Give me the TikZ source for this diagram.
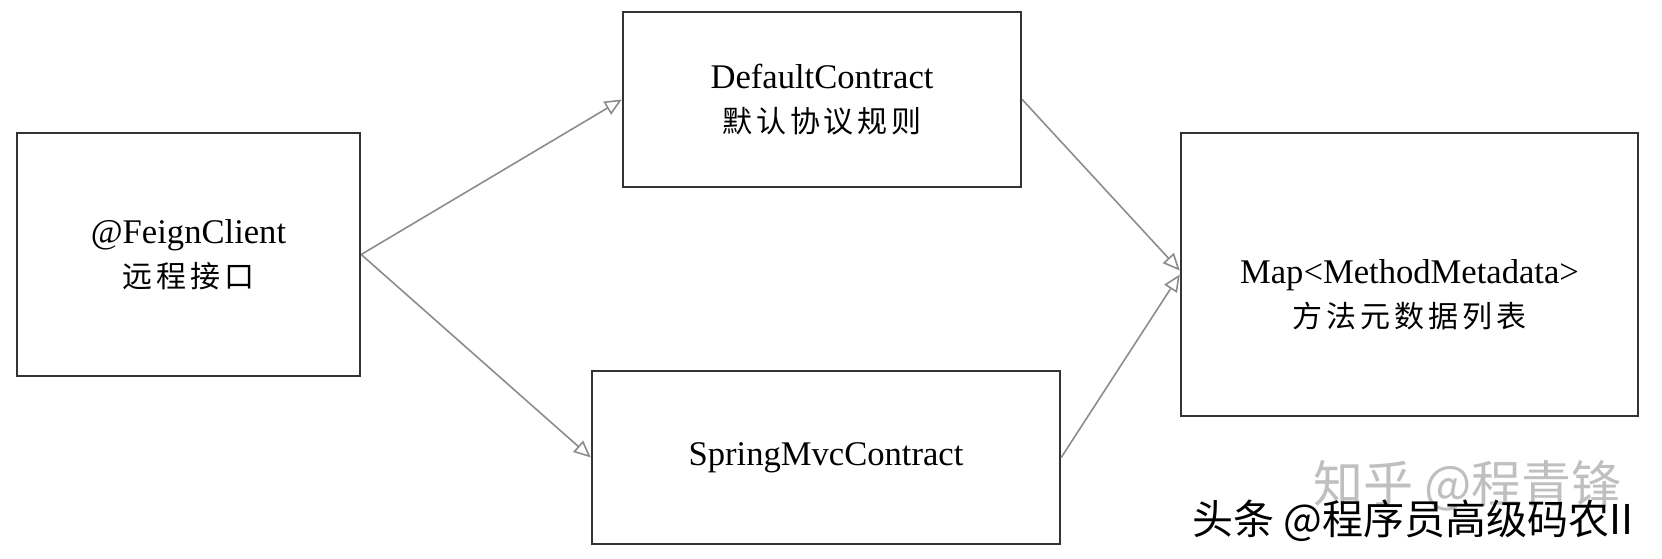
\documentclass[tikz,border=0pt]{standalone}
\usepackage{fontspec}
\setmainfont{Liberation Serif}
\newfontfamily\cjk[LetterSpace=13]{Noto Sans CJK SC}
\newfontfamily\cjkmark{Noto Sans CJK SC}
\usetikzlibrary{arrows.meta, positioning}
\tikzset{
    x=0.5pt, y=-0.5pt, % one unit is one pixel of the picture
    >={Triangle[open, length=8.5pt, width=7.5pt]}, % open heads on the flows
    block/.style={draw=black!80, line width=1.2pt, fill=white, inner sep=0pt, align=center,
        font=\fontsize{17.3}{22}\selectfont}, % the boxes
    flow/.style={->, draw=black!45, line width=0.8pt}, % grey connectors
    watermark/.style={anchor=west, inner sep=0pt},
}
\newcommand{\zh}[1]{{\cjk\fontsize{15}{22}\selectfont #1}}
\begin{document}
\begin{tikzpicture}
    \useasboundingbox (0,0) rectangle (1662,558);
    \node[block, minimum width=171.5pt, minimum height=121.5pt] (client) at (188.5,254.5) {@FeignClient\\\zh{远程接口}};
    \node[block, minimum width=199pt, minimum height=87.5pt] (default) at (822,99.5) {DefaultContract\\\zh{默认协议规则}};
    \node[block, minimum width=234pt, minimum height=86.5pt] (spring) at (826,457.5) {SpringMvcContract};
    \node[block, minimum width=228.5pt, minimum height=141.5pt] (map) at (1409.5,274.5) {};
    \node[align=center, font=\fontsize{17.3}{22}\selectfont] (maptext) at ([yshift=-10pt]map.center) {Map<MethodMetadata>\\\zh{方法元数据列表}};
    \draw[flow] (client.east) -- (default.west);
    \draw[flow] (client.east) -- (spring.west);
    \draw[flow] (default.east) -- (map.179.4);
    \draw[flow] (spring.east) -- (map.180.8);
    % watermarks
    \node[watermark, text=black!25, font={\cjkmark\fontsize{25}{25}\selectfont}] (zhihu) at (1313,486) {知乎 @程青锋};
    \node[watermark, text=black, font={\cjkmark\fontsize{20.5}{22}\selectfont}] (toutiao) at (1192,521) {头条 @程序员高级码农II};
\end{tikzpicture}
\end{document}
